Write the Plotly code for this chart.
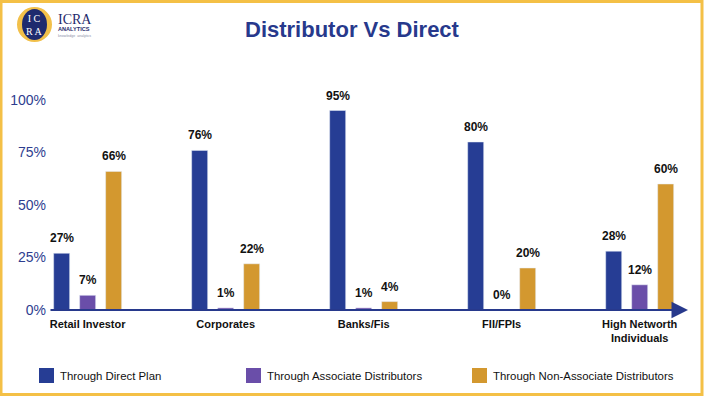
import plotly.graph_objects as go

categories = ["Retail Investor", "Corporates", "Banks/Fis", "FII/FPIs", "High Networth<br>Individuals"]
direct = [27, 76, 95, 80, 28]
associate = [7, 1, 1, 0, 12]
non_associate = [66, 22, 4, 20, 60]
series_names = ["Through Direct Plan", "Through Associate Distributors", "Through Non-Associate Distributors"]
tick_vals = [0, 25, 50, 75, 100]
tick_text = ["0%", "25%", "50%", "75%", "100%"]

colors = ["#263d94", "#6a4ea9", "#d3982f"]
navy = "#27398c"
FONT = "Liberation Sans, Arial, Helvetica, sans-serif"

W, H = 704, 396
ML, MR, MT, MB = 49, 16, 79, 86
PW, PH = W - ML - MR, H - MT - MB

def px(x):
    return (x - ML) / PW

def py(y):
    return 1 - (y - MT) / PH

fig = go.Figure()
all_series = [direct, associate, non_associate]
for name, vals, c in zip(series_names, all_series, colors):
    fig.add_trace(go.Bar(x=categories, y=vals, name=name, marker_color=c,
                         showlegend=False, hoverinfo="skip"))

annotations = []
shifts = [-26, 0, 26]
for vals, s in zip(all_series, shifts):
    for cat, v in zip(categories, vals):
        annotations.append(dict(x=cat, y=v, text=f"<b>{v}%</b>", showarrow=False,
                                xshift=s, yshift=6, yanchor="bottom",
                                font=dict(family=FONT, size=12, color="#111111")))

# axis line with arrow
annotations.append(dict(x=4.35, y=0, ax=-0.28, ay=0, xref="x", yref="y", axref="x", ayref="y",
                        showarrow=True, arrowhead=2, arrowsize=1.5, arrowwidth=2.2,
                        arrowcolor=navy, text=""))

# title
annotations.append(dict(x=px(352), y=py(30), xref="paper", yref="paper", showarrow=False,
                        xanchor="center", yanchor="middle",
                        text="<b>Distributor Vs Direct</b>",
                        font=dict(family=FONT, size=22, color=navy)))

# logo text
annotations += [
    dict(x=px(57), y=py(11), xref="paper", yref="paper", showarrow=False, xanchor="left", yanchor="top",
         align="left", borderpad=0,
         text=("<span style='font-family:Liberation Serif;font-size:14px'>ICRA</span>"
               "<br><span style='font-size:5.6px;font-weight:bold'>ANALYTICS</span>"
               "<br><span style='font-size:3.6px;fill:#8a8fa8'>knowledge  analytics</span>"),
         font=dict(family=FONT, size=5, color="#1f2a6b")),
    dict(x=px(34.5), y=py(24.5), xref="paper", yref="paper", showarrow=False,
         xanchor="center", yanchor="middle",
         text="I C<br>R A", font=dict(family="Liberation Serif, serif", size=10, color="white")),
]

shapes = [
    dict(type="rect", xref="paper", yref="paper", x0=px(1), x1=px(702), y0=py(1.5), y1=py(394.5),
         line=dict(color="#f4c046", width=3), fillcolor="rgba(0,0,0,0)", layer="above"),
    dict(type="circle", xref="paper", yref="paper", x0=px(17), x1=px(52), y0=py(7), y1=py(42),
         line=dict(width=0), fillcolor="#f2c04a", layer="below"),
    dict(type="circle", xref="paper", yref="paper", x0=px(22), x1=px(47), y0=py(9), y1=py(40),
         line=dict(width=0), fillcolor="#1e2a6e", layer="below"),
]

# manual legend
legend_x = [39, 246, 472]
for name, c, lx in zip(series_names, colors, legend_x):
    shapes.append(dict(type="rect", xref="paper", yref="paper", x0=px(lx), x1=px(lx + 15),
                       y0=py(368), y1=py(383), line=dict(width=0), fillcolor=c))
    annotations.append(dict(x=px(lx + 19), y=py(376), xref="paper", yref="paper", showarrow=False,
                            xanchor="left", yanchor="middle", text=name,
                            font=dict(family=FONT, size=11.4, color="#111111")))

fig.update_layout(
    width=W, height=H,
    margin=dict(l=ML, r=MR, t=MT, b=MB),
    paper_bgcolor="white", plot_bgcolor="white",
    barmode="group", bargap=0.435, bargroupgap=0.385,
    font=dict(family=FONT),
    showlegend=False,
    xaxis=dict(range=[-0.28, 4.35], showgrid=False, showline=False, zeroline=False,
               ticks="", ticklabelstandoff=6, automargin=False,
               tickfont=dict(family=FONT, size=11, color="#111111", weight="bold")),
    yaxis=dict(range=[0, 110], tickvals=tick_vals, ticktext=tick_text, showgrid=False,
               showline=False, zeroline=False, ticks="", ticklabelstandoff=2, automargin=False,
               tickfont=dict(family=FONT, size=14, color="#2e3d8f")),
    annotations=annotations,
    shapes=shapes,
)

fig.write_html("out.html", config={"displayModeBar": False},
               post_script="document.body.style.margin='0';document.body.style.overflow='hidden';")
